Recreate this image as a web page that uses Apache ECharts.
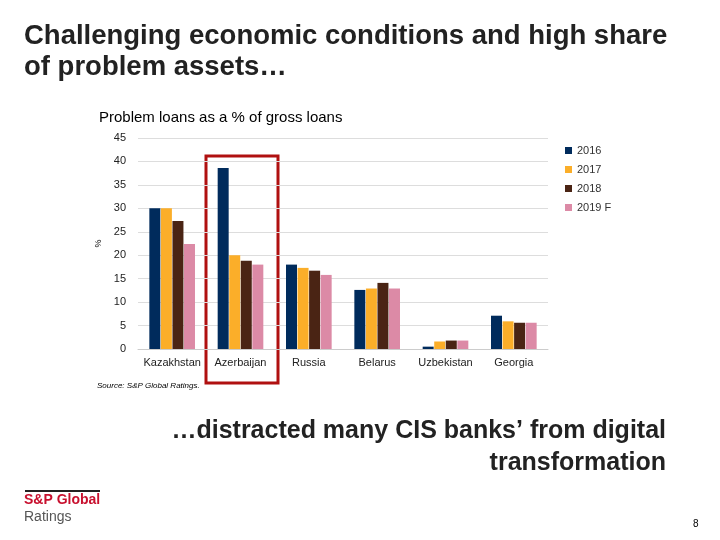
<!DOCTYPE html>
<html><head><meta charset="utf-8">
<script src="https://cdn.jsdelivr.net/npm/echarts@6/dist/echarts.min.js"></script>
<style>html,body{margin:0;padding:0;background:#fff}#c{width:720px;height:540px}</style>
</head><body><div id="c"></div>
<script>
const categories = ["Kazakhstan", "Azerbaijan", "Russia", "Belarus", "Uzbekistan", "Georgia"];
const years = ["2016", "2017", "2018", "2019 F"];
const colors = ["#002b5c", "#fbae29", "#4a2414", "#dc8aa6"];
const values2016 = [30, 38.6, 18, 12.6, 0.5, 7.1];
const values2017 = [30, 20, 17.3, 12.9, 1.6, 5.9];
const values2018 = [27.3, 18.8, 16.7, 14.1, 1.8, 5.6];
const values2019 = [22.4, 18, 15.8, 12.9, 1.8, 5.6];
const allValues = [values2016, values2017, values2018, values2019];

const font = "Liberation Sans, Arial, sans-serif";
const chart = echarts.init(document.getElementById("c"));
chart.setOption({
  animation: false,
  textStyle: { fontFamily: font },
  title: [
    { text: "Problem loans as a % of gross loans", left: 94, top: 105,
      textStyle: { fontSize: 15, fontWeight: "normal", color: "#000", fontFamily: font } },
    { text: "Source: S&P Global Ratings.", left: 92, top: 377,
      textStyle: { fontSize: 8, fontStyle: "italic", fontWeight: "normal", color: "#000", fontFamily: font } },
    { text: "8", left: 688, top: 514, textStyle: { fontSize: 10, fontWeight: "normal", color: "#000" } }
  ],
  legend: {
    orient: "vertical", left: 560, top: 140, itemWidth: 7, itemHeight: 7, itemGap: 8, icon: "rect",
    textStyle: { fontSize: 11, color: "#333" }, data: years
  },
  grid: { left: 138, right: 172, top: 138, bottom: 191 },
  xAxis: {
    type: "category", data: categories,
    axisLine: { lineStyle: { color: "#ccc" } }, axisTick: { show: false },
    axisLabel: { color: "#222", fontSize: 11, interval: 0, margin: 8 }
  },
  yAxis: {
    type: "value", min: 0, max: 45, interval: 5, name: "%", nameLocation: "middle", nameGap: 24,
    nameTextStyle: { fontSize: 9, color: "#000" },
    axisLabel: { color: "#222", fontSize: 11, margin: 12 },
    splitLine: { lineStyle: { color: "#ddd" } }
  },
  series: years.map((y, i) => ({
    name: y, type: "bar", data: allValues[i], barWidth: 11, barGap: "5%",
    itemStyle: { color: colors[i] }
  })),
  graphic: [
    { type: "text", left: 24, top: 21, style: { text: "Challenging economic conditions and high share\nof problem assets…",
      fill: "#222", font: "bold 27.5px " + font, lineHeight: 31 } },
    { type: "text", right: 54, top: 419, style: { text: "…distracted many CIS banks’ from digital",
      fill: "#222", font: "bold 25px " + font } },
    { type: "text", right: 54, top: 451, style: { text: "transformation",
      fill: "#222", font: "bold 25px " + font } },
    { type: "rect", shape: { x: 206, y: 156, width: 72, height: 227 },
      style: { fill: "none", stroke: "#b01010", lineWidth: 3 } },
    { type: "rect", shape: { x: 25, y: 490, width: 75, height: 2 }, style: { fill: "#222" } },
    { type: "text", left: 24, top: 493, style: { text: "S&P Global", fill: "#c8102e", font: "bold 14px " + font } },
    { type: "text", left: 24, top: 510, style: { text: "Ratings", fill: "#555", font: "14px " + font } }
  ]
});
</script></body></html>
